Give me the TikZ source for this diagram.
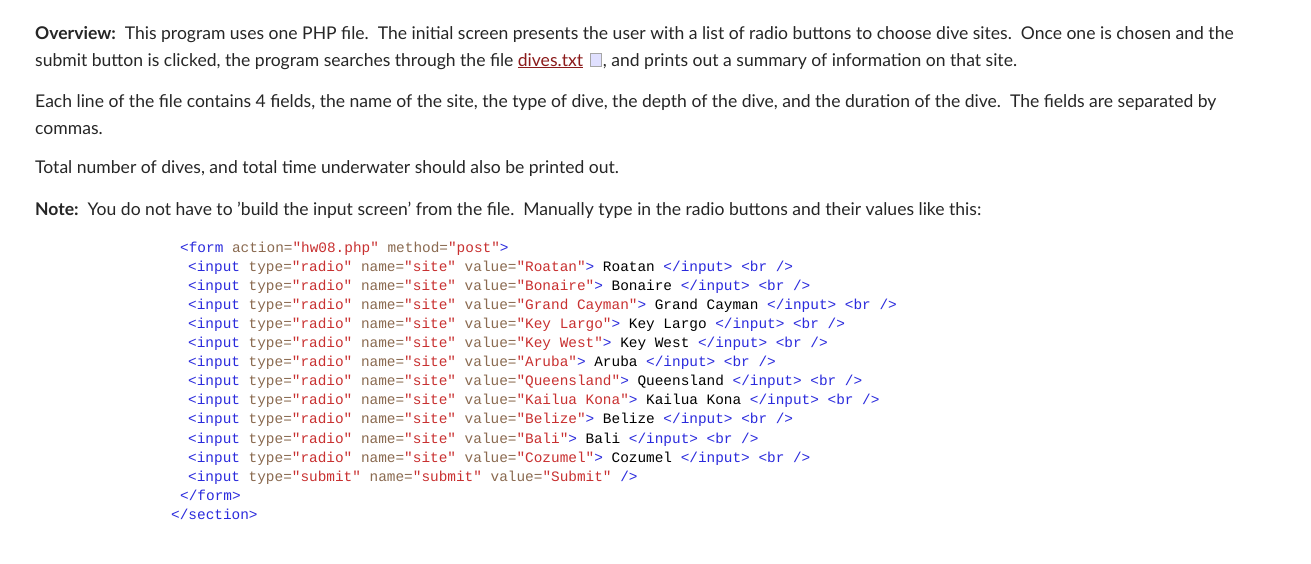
\documentclass[tikz,border=0pt]{standalone}
\usepackage{fontspec}
\setmainfont{Lato}
\setmonofont{Liberation Mono}
\definecolor{tagc}{HTML}{2A2ADC}
\definecolor{attc}{HTML}{8A6A50}
\definecolor{valc}{HTML}{C83030}
\definecolor{linkc}{HTML}{8B1A1A}
\newcommand{\tg}[1]{\textcolor{tagc}{#1}}
\newcommand{\at}[1]{\textcolor{attc}{#1}}
\newcommand{\vl}[1]{\textcolor{valc}{#1}}
\newcommand{\inp}[1]{\tg{<input} \at{type=}\vl{"radio"} \at{name=}\vl{"site"} \at{value=}\vl{"#1"}\tg{>} #1 \tg{</input>} \tg{<br />}}
\begin{document}
\begin{tikzpicture}[x=1pt,y=1pt,
  txt/.style={anchor=base west,inner sep=0pt,font=\fontsize{17.55}{20}\selectfont,text=black!85},
  code/.style={anchor=base west,inner sep=0pt,font=\ttfamily\fontsize{14.4}{16}\selectfont}]
\useasboundingbox (0,0) rectangle (1311,-563);
\node[txt] (p1) at (35,-39) {\textbf{Overview:}\ \ This program uses one PHP file.\ \ The initial screen presents the user with a list of radio buttons to choose dive sites.\ \ Once one is chosen and the};
\node[txt] (p2) at (35,-66) {submit button is clicked, the program searches through the file \textcolor{linkc}{\underline{dives.txt}}};
\node[draw=gray!70,fill=blue!12,minimum width=11pt,minimum height=13pt,inner sep=0pt,anchor=south west] (ic) at ([xshift=7pt]p2.base east) {};
\node[txt] (p2b) at ([xshift=1pt]ic.south east |- p2.base) {, and prints out a summary of information on that site.};
\node[txt] (p3) at (35,-107) {Each line of the file contains 4 fields, the name of the site, the type of dive, the depth of the dive, and the duration of the dive.\ \ The fields are separated by};
\node[txt] (p4) at (35,-134) {commas.};
\node[txt] (p5) at (35,-173) {Total number of dives, and total time underwater should also be printed out.};
\node[txt] (p6) at (35,-215) {\textbf{Note:}\ \ You do not have to 'build the input screen' from the file.\ \ Manually type in the radio buttons and their values like this:};
\node[code] (c0) at (180,-252) {\tg{<form} \at{action=}\vl{"hw08.php"} \at{method=}\vl{"post"}\tg{>}};
\node[code] (c1) at (188,-271.1) {\inp{Roatan}};
\node[code] (c2) at (188,-290.2) {\inp{Bonaire}};
\node[code] (c3) at (188,-309.3) {\inp{Grand Cayman}};
\node[code] (c4) at (188,-328.4) {\inp{Key Largo}};
\node[code] (c5) at (188,-347.5) {\inp{Key West}};
\node[code] (c6) at (188,-366.6) {\inp{Aruba}};
\node[code] (c7) at (188,-385.7) {\inp{Queensland}};
\node[code] (c8) at (188,-404.8) {\inp{Kailua Kona}};
\node[code] (c9) at (188,-423.9) {\inp{Belize}};
\node[code] (c10) at (188,-443) {\inp{Bali}};
\node[code] (c11) at (188,-462.1) {\inp{Cozumel}};
\node[code] (c12) at (188,-481.2) {\tg{<input} \at{type=}\vl{"submit"} \at{name=}\vl{"submit"} \at{value=}\vl{"Submit"} \tg{/>}};
\node[code] (c13) at (180,-500.3) {\tg{</form>}};
\node[code] (c14) at (171,-519.4) {\tg{</section>}};
\end{tikzpicture}
\end{document}
